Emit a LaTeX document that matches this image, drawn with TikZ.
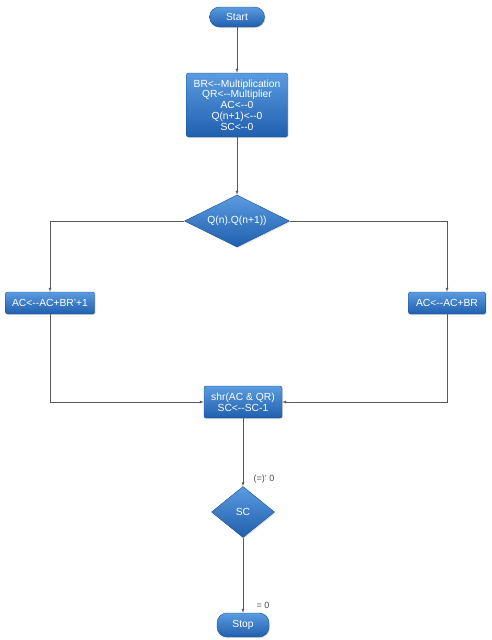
\documentclass[tikz,border=0pt]{standalone}
\usepackage{fontspec}
\setmainfont{Liberation Sans}
\usetikzlibrary{shapes.geometric, arrows, shadows}
\definecolor{boxtop}{HTML}{5B9BE0}
\definecolor{boxbot}{HTML}{1F5FAE}
\definecolor{boxline}{HTML}{1A4F8F}
\tikzstyle{blue} = [draw=boxline, top color=boxtop, bottom color=boxbot, text=white, font=\fontsize{10.3}{10.8}\selectfont, drop shadow={opacity=0.25, shadow xshift=1pt, shadow yshift=-1pt}]
\tikzstyle{startstop} = [blue, rectangle, rounded corners=10pt, inner sep=0pt, text centered]
\tikzstyle{process} = [blue, rectangle, rounded corners=2pt, inner sep=0pt, align=center]
\tikzstyle{decision} = [blue, diamond, inner sep=0pt, text centered]
\tikzstyle{arrow} = [draw=black!65, ->, >=latex]
\tikzstyle{cond} = [font=\fontsize{9}{10}\selectfont, text=black!70]

\begin{document}
\begin{tikzpicture}[x=1pt, y=-1pt]
\useasboundingbox (0,0) rectangle (491,640);

\node (start) [startstop, minimum width=55pt, minimum height=20pt] at (237,17) {Start};
\node (init) [process, minimum width=101pt, minimum height=64pt] at (237,105) {BR<-{}-Multiplication\\QR<-{}-Multiplier\\AC<-{}-0\\Q(n+1)<-{}-0\\SC<-{}-0};
\node (dec1) [decision, aspect=2, minimum width=105pt, minimum height=52pt] at (237,221) {Q(n).Q(n+1))};
\node (sub) [process, minimum width=89pt, minimum height=22pt] at (50,303) {AC<-{}-AC+BR'+1};
\node (add) [process, minimum width=77pt, minimum height=22pt] at (447,303) {AC<-{}-AC+BR};
\node (shr) [process, minimum width=78pt, minimum height=32pt] at (243,402) {shr(AC \& QR)\\SC<-{}-SC-1};
\node (dec2) [decision, aspect=1.24, minimum width=63pt, minimum height=51pt] at (243,512) {SC};
\node (stop) [startstop, minimum width=52pt, minimum height=24pt] at (243,625) {Stop};

\draw [arrow] (start) -- (init);
\draw [arrow] (init) -- (dec1);
\draw [arrow] (dec1.west) -| (sub);
\draw [arrow] (dec1.east) -| (add);
\draw [arrow] (sub) |- (shr);
\draw [arrow] (add) |- (shr);
\draw [arrow] (shr) -- node[cond, pos=0.9, anchor=west, xshift=7pt] {(=)' 0} (dec2);
\draw [arrow] (dec2) -- node[cond, pos=0.9, anchor=west, xshift=10pt] {= 0} (stop);

\end{tikzpicture}
\end{document}
